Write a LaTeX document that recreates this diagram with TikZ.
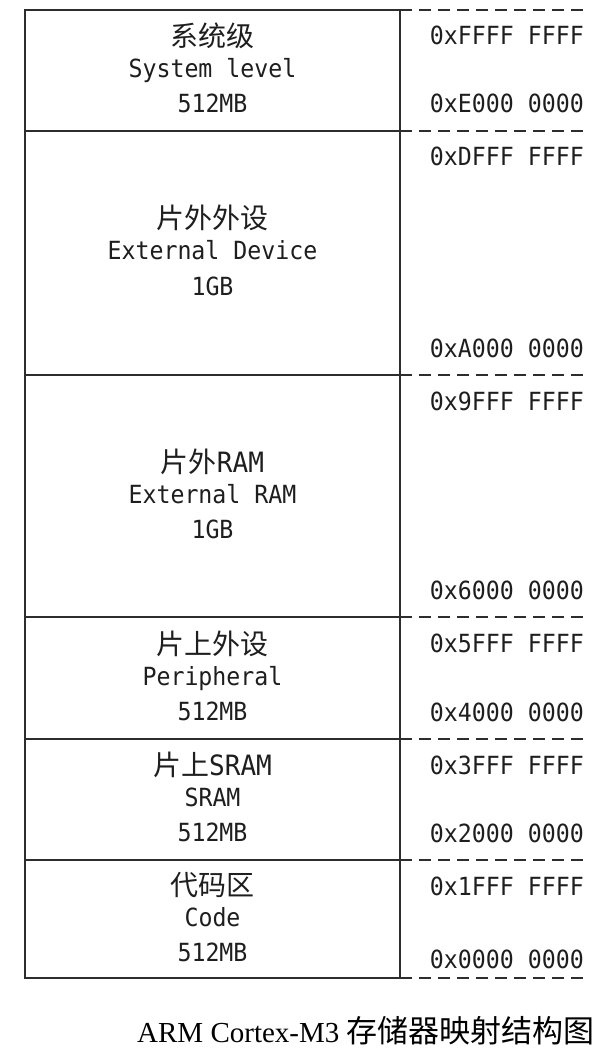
\documentclass[tikz,border=0pt]{standalone}
\usepackage{fontspec}
\setmainfont{DejaVu Sans Mono}[FakeStretch=0.93]
\newfontfamily\cjk{Noto Sans CJK SC}
\newfontfamily\capserif{Liberation Serif}
\usetikzlibrary{positioning}
\definecolor{mapline}{RGB}{45,45,45}
\definecolor{maptext}{RGB}{30,30,30}

\begin{document}
\begin{tikzpicture}[x=1pt, y=-1pt,
        every node/.style={inner sep=0pt, text=maptext},
        region/.style={draw=mapline, line width=1.6pt},
        addr/.style={draw=mapline, line width=1.6pt, dash pattern=on 12pt off 7pt},
        cnlabel/.style={font=\fontsize{25}{25}\selectfont, anchor=base},
        enlabel/.style={font=\fontsize{25}{25}\selectfont, anchor=base},
        hexlabel/.style={font=\fontsize{25}{25}\selectfont, anchor=base east}]
    \useasboundingbox (0,0) rectangle (600,1048);
    \draw[region] (25,10) rectangle (400,978);
    \draw[addr] (400,10) -- (584,10);
    % one block per region: name/top/bottom/texts/addresses/drop of the low address
    \foreach \name/\top/\bot/\cn/\en/\sz/\hi/\lo/\drop in {
            sys/10/131/{\cjk 系统级}/System level/512MB/0xFFFF FFFF/0xE000 0000/18,
            ext/131/375/{\cjk 片外外设}/External Device/1GB/0xDFFF FFFF/0xA000 0000/18,
            ram/375/617/{\cjk 片外}RAM/External RAM/1GB/0x9FFF FFFF/0x6000 0000/18,
            per/617/739/{\cjk 片上外设}/Peripheral/512MB/0x5FFF FFFF/0x4000 0000/18,
            sram/739/860/{\cjk 片上}SRAM/SRAM/512MB/0x3FFF FFFF/0x2000 0000/18,
            code/860/978/{\cjk 代码区}/Code/512MB/0x1FFF FFFF/0x0000 0000/10} {
        \pgfmathsetmacro\mid{(\top+\bot)/2+7}
        \draw[region] (25,\bot) -- (400,\bot);
        \draw[addr] (400,\bot) -- (584,\bot);
        \node[cnlabel] (\name-cn) at (212.5,\mid-31) {\fontsize{28}{28}\selectfont\cn};
        \node[enlabel] (\name-en) at (212.5,\mid) {\en};
        \node[enlabel] (\name-sz) at (212.5,\mid+35) {\sz};
        \node[hexlabel] (\name-hi) at (584,\top+35) {\hi};
        \node[hexlabel] (\name-lo) at (584,\bot-\drop) {\lo};
    }
    % caption
    \node[anchor=base west, font=\capserif\fontsize{29}{29}\selectfont, text=black] (caption) at (137,1042)
        {ARM Cortex-M3 {\cjk\fontsize{31}{31}\selectfont 存储器映射结构图}};
\end{tikzpicture}
\end{document}
